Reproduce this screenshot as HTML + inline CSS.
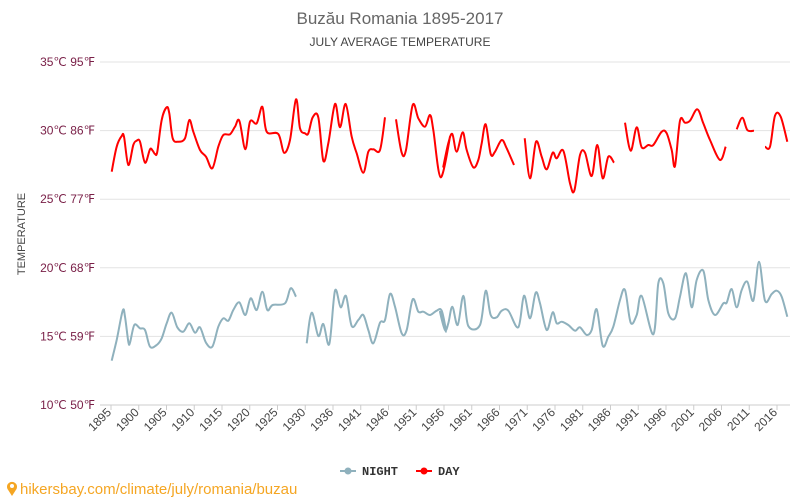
<!DOCTYPE html>
<html><head><meta charset="utf-8"><style>
body{margin:0;background:#fff;}
svg{display:block;font-family:"Liberation Sans",sans-serif;}
</style></head><body>
<svg id="s" width="800" height="500" xmlns="http://www.w3.org/2000/svg">
<text x="400" y="24" text-anchor="middle" font-size="17" fill="#666">Buzău Romania 1895-2017</text>
<text x="400" y="46" text-anchor="middle" font-size="12" fill="#444">JULY AVERAGE TEMPERATURE</text>
<text transform="translate(25,234) rotate(-90)" text-anchor="middle" font-size="11" fill="#444">TEMPERATURE</text>
<g id="grid"></g>
<g id="xl"></g>
<g id="lines"></g>
<g transform="translate(340,471)">
<line x1="0" y1="0" x2="16" y2="0" stroke="#8fb1bd" stroke-width="2"/><circle cx="8" cy="0" r="3.5" fill="#8fb1bd"/>
<text x="22" y="4" font-size="12" font-family="Liberation Mono,monospace" font-weight="bold" fill="#333">NIGHT</text>
<line x1="76" y1="0" x2="92" y2="0" stroke="#f00" stroke-width="2"/><circle cx="84" cy="0" r="3.5" fill="#f00"/>
<text x="98" y="4" font-size="12" font-family="Liberation Mono,monospace" font-weight="bold" fill="#333">DAY</text>
</g>
<path d="M12,496 L7.5,489 A5,5 0 1 1 16.5,489 Z" fill="#f5a623"/><circle cx="12" cy="486" r="2" fill="#fff"/>
<text x="20" y="494" font-size="15" fill="#f5a623">hikersbay.com/climate/july/romania/buzau</text>
</svg>
<script>
var NS="http://www.w3.org/2000/svg";
function el(p,t,a,txt){var e=document.createElementNS(NS,t);for(var k in a)e.setAttribute(k,a[k]);if(txt)e.textContent=txt;p.appendChild(e);return e;}
var g=document.getElementById("grid");
var labs=["35℃ 95℉","30℃ 86℉","25℃ 77℉","20℃ 68℉","15℃ 59℉","10℃ 50℉"];
for(var i=0;i<6;i++){var y=62+i*68.6;
 el(g,"line",{x1:100,x2:790,y1:y,y2:y,stroke:i==5?"#ccc":"#e3e3e3","stroke-width":1});
 el(g,"text",{x:95,y:y+4,"text-anchor":"end","font-size":12,fill:"#7a2048"},labs[i]);}
var yrs=[1895,1900,1905,1910,1915,1920,1925,1930,1936,1941,1946,1951,1956,1961,1966,1971,1976,1981,1986,1991,1996,2001,2006,2011,2016];
var xl=document.getElementById("xl");
yrs.forEach(function(yr,i){var x=111+i*27.75;
 el(xl,"line",{x1:x,x2:x,y1:405,y2:410,stroke:"#ccc"});
 el(xl,"text",{transform:"translate("+(x+1)+",413) rotate(-45)","text-anchor":"end","font-size":12,fill:"#444"},yr);});
function T1(a){return a.map(function(p){return [100+p[0]/3,90+p[1]/3];});}
function T2(a){return a.map(function(p){return [440+p[0]/3,90+p[1]/3];});}
var day=[
T1([[35,245],[50,170],[65,138],[72,140],[85,225],[100,165],[110,152],[120,155],[135,218],[150,178],[158,182],[165,192],[172,185],[185,90],[200,52],[208,70],[218,145],[235,155],[255,145],[268,90],[280,125],[300,180],[318,200],[337,235],[355,170],[370,135],[390,133],[405,110],[418,92],[436,178],[450,95],[470,100],[487,50],[500,125],[535,132],[552,188],[570,150],[588,28],[600,115],[615,130],[625,130],[638,82],[655,82],[670,212],[685,160],[705,42],[720,112],[737,42],[755,140],[770,190],[790,248],[805,185],[820,178],[840,180],[855,82]]),
T1([[888,88],[905,188],[918,180],[938,45],[955,85],[975,110],[990,75],[1000,120],[1022,262],[1050,140]]).concat(T2([[10,230],[25,160],[37,132],[50,185],[68,127],[80,180],[100,232],[115,210],[125,160],[137,103],[152,192],[165,185],[185,150],[200,175],[222,225]])),
T2([[254,145],[270,265],[288,155],[305,200],[320,238],[338,188],[350,205],[370,182],[390,280],[403,302],[420,195],[435,188],[455,258],[472,165],[488,265],[505,200],[522,218]]),
T2([[555,98],[572,182],[590,112],[605,172],[625,165],[640,165],[665,125],[680,130],[695,180],[705,228],[720,92],[735,98],[750,92],[772,58],[790,100],[810,150],[840,210],[857,170]]),
T2([[890,118],[907,83],[922,120],[942,122]]),
T2([[975,170],[990,170],[1005,77],[1022,80],[1042,155]])];
var night=[
T1([[35,812],[50,750],[68,662],[75,680],[85,755],[90,758],[103,705],[120,715],[135,720],[150,770],[170,765],[185,745],[200,700],[215,668],[232,712],[250,725],[268,700],[285,728],[300,712],[318,758],[337,770],[355,710],[370,685],[385,692],[400,660],[418,637],[436,675],[452,625],[470,660],[487,605],[502,660],[518,645],[555,640],[572,595],[588,620]]),
T1([[620,760],[635,668],[655,738],[670,702],[688,762],[705,602],[722,652],[738,618],[755,708],[775,690],[790,675],[805,720],[820,760],[840,698],[855,690],[870,612],[885,650],[905,730],[920,720],[938,628],[955,665],[970,665],[990,675],[1010,662],[1025,662],[1038,725]]).concat(T2([[0,665],[15,720],[25,700],[37,650],[53,705],[70,617],[85,708],[120,705],[137,602],[152,675],[170,682],[185,662],[205,662],[235,712],[252,617],[270,685],[287,608],[300,640],[320,720],[338,667],[350,700],[365,695],[385,705],[405,722],[420,712],[440,735],[455,720],[470,658],[488,767],[505,740],[520,710],[540,630],[555,600],[572,698],[590,675],[605,618],[640,733],[655,580],[670,580],[685,670],[705,685],[720,620],[738,550],[755,652],[770,570],[790,542],[805,630],[825,675],[850,640],[860,638],[875,597],[890,652],[905,600],[922,575],[940,632],[957,515],[975,632],[995,612],[1010,602],[1025,620],[1042,680]]))];
function path(p){var d="M"+p[0][0].toFixed(1)+","+p[0][1].toFixed(1);
 for(var i=0;i<p.length-1;i++){var p0=p[i-1]||p[i],p1=p[i],p2=p[i+1],p3=p[i+2]||p2;
  d+="C"+(p1[0]+(p2[0]-p0[0])/6).toFixed(1)+","+(p1[1]+(p2[1]-p0[1])/6).toFixed(1)+" "+(p2[0]-(p3[0]-p1[0])/6).toFixed(1)+","+(p2[1]-(p3[1]-p1[1])/6).toFixed(1)+" "+p2[0].toFixed(1)+","+p2[1].toFixed(1);}
 return d;}
var L=document.getElementById("lines");
night.forEach(function(p){el(L,"path",{d:path(p),fill:"none",stroke:"#8fb1bd","stroke-width":2});});
day.forEach(function(p){el(L,"path",{d:path(p),fill:"none",stroke:"#f00","stroke-width":2});});
</script>
</body></html>
